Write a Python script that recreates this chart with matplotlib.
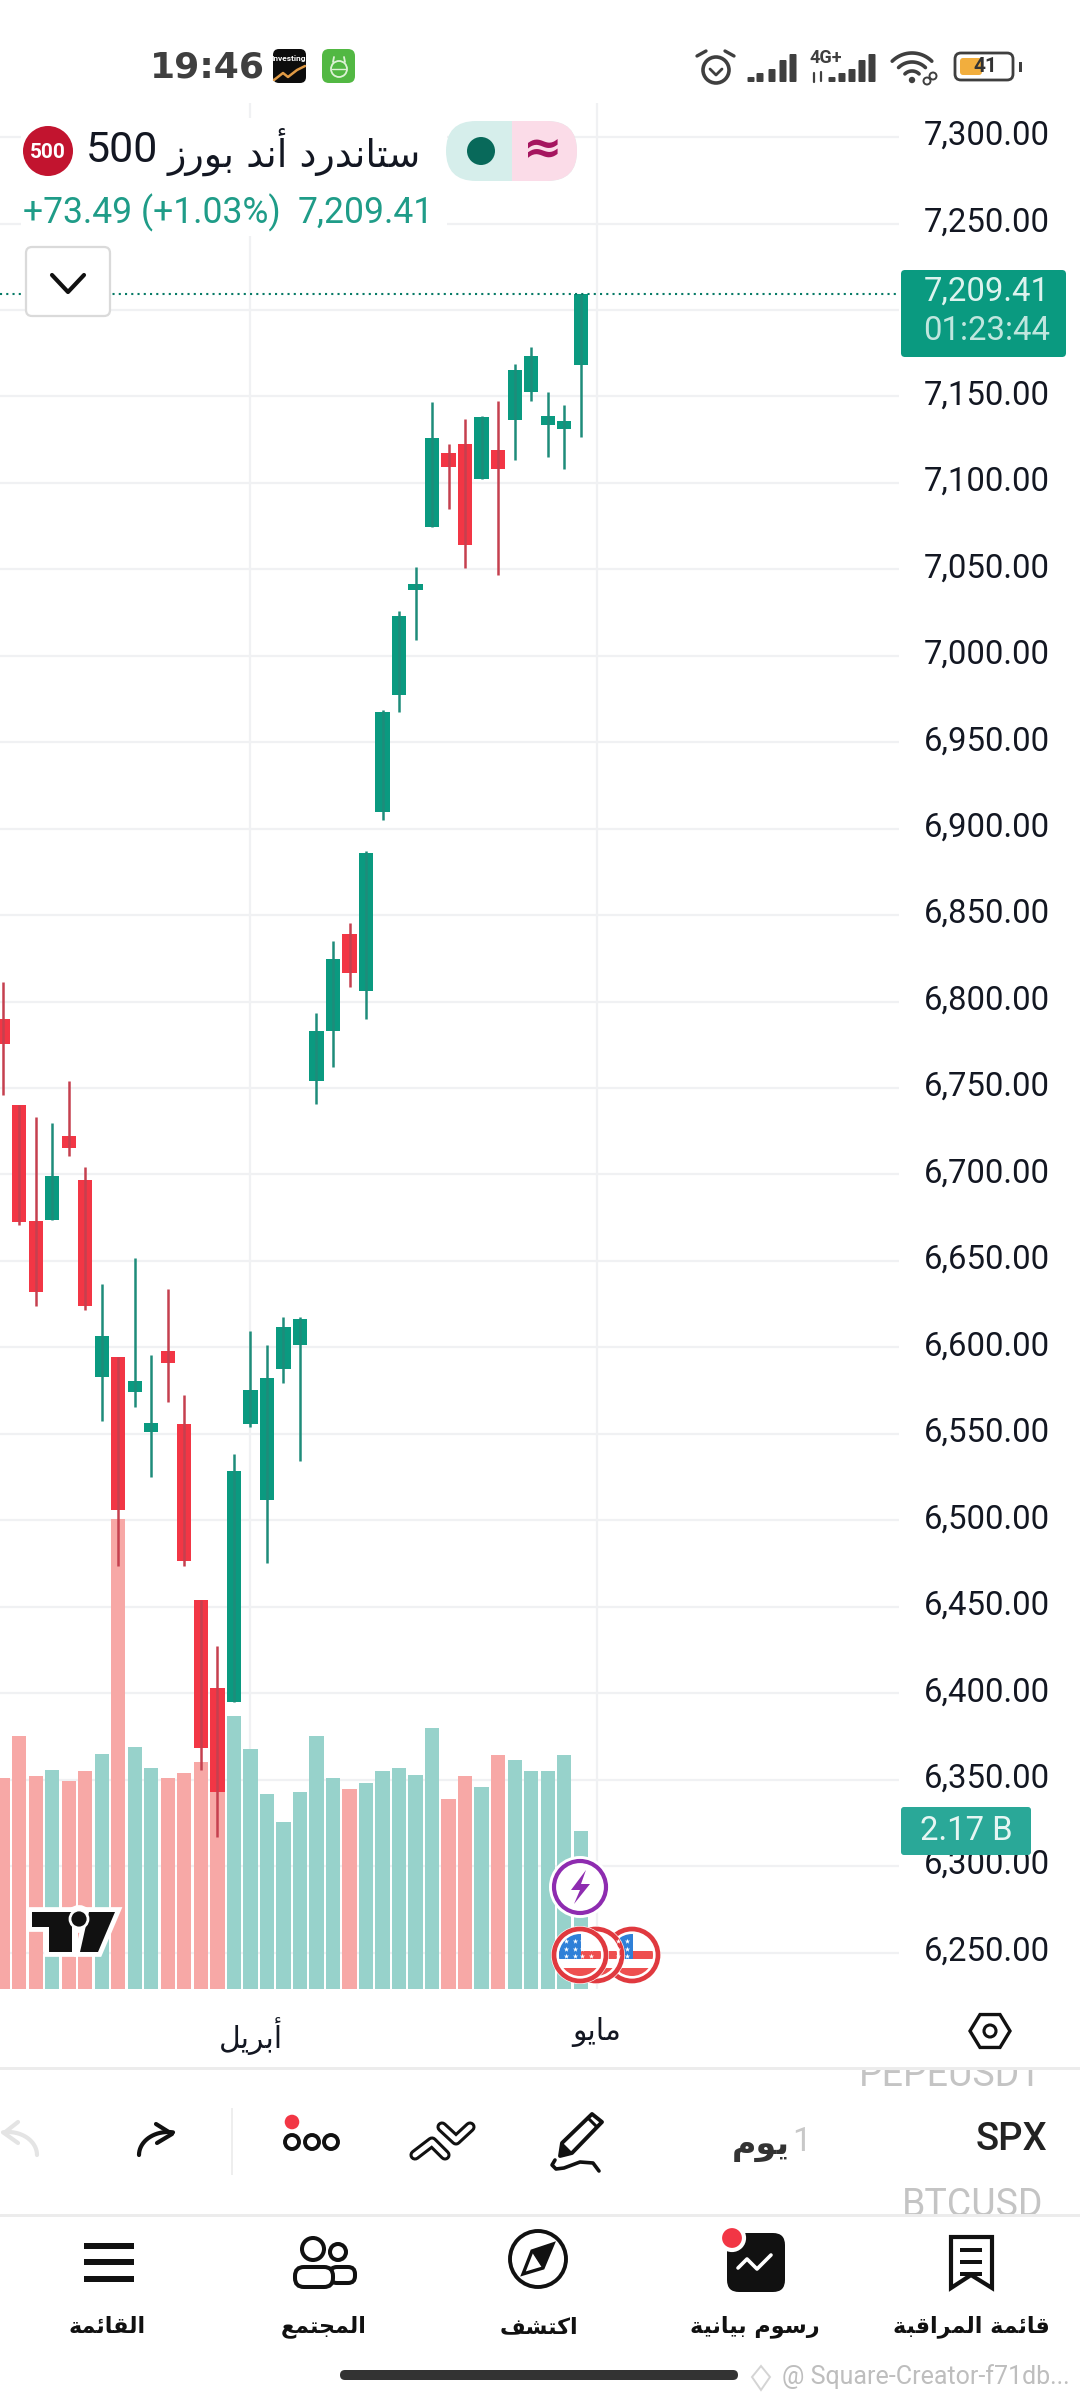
import numpy as np
import matplotlib
matplotlib.use('Agg')
import matplotlib.pyplot as plt
from matplotlib.patches import Circle, Polygon, Rectangle, FancyBboxPatch
from matplotlib.transforms import ScaledTranslation

# Candles, oldest first
opens = [6789.8, 6740.3, 6672.9, 6673.6, 6722.4, 6696.8, 6582.6, 6594.2, 6574.3, 6551.1, 6597.9, 6555.7,
         6453.8, 6403.0, 6394.7, 6555.7, 6511.9, 6587.3, 6601.5, 6753.9, 6783.1, 6839.2, 6805.9, 6909.9,
         6977.5, 7037.8, 7074.3, 7117.1, 7122.5, 7102.5, 7119.0, 7136.1, 7152.3, 7133.3, 7131.4, 7167.9]
closes = [6775.2, 6672.3, 6631.8, 6699.1, 6715.4, 6624.1, 6606.5, 6505.9, 6580.6, 6556.4, 6590.9, 6476.4,
          6368.5, 6342.9, 6528.5, 6575.3, 6582.3, 6611.8, 6616.5, 6782.8, 6824.6, 6816.3, 6885.8, 6967.4,
          7022.9, 7041.6, 7126.0, 7108.9, 7063.8, 7138.0, 7108.2, 7165.0, 7173.6, 7138.7, 7135.5, 7209.41]
highs = [6811.4, 6740.3, 6733.3, 6729.7, 6753.9, 6704.5, 6636.4, 6594.2, 6651.7, 6595.6, 6633.7, 6572.6,
         6453.8, 6427.2, 6538.4, 6609.2, 6601.5, 6617.8, 6617.8, 6793.4, 6834.9, 6845.2, 6886.8, 6968.9,
         7026.0, 7051.1, 7146.9, 7122.5, 7137.1, 7138.7, 7147.6, 7168.5, 7178.3, 7152.3, 7145.3, 7209.41]
lows = [6746.0, 6670.6, 6624.1, 6673.6, 6710.8, 6621.8, 6557.4, 6473.7, 6565.7, 6524.8, 6568.3, 6473.7,
        6355.8, 6317.0, 6394.7, 6554.0, 6475.0, 6579.6, 6534.5, 6740.6, 6761.9, 6808.7, 6790.0, 6905.2,
        6967.4, 7008.9, 7074.3, 7084.7, 7050.5, 7102.5, 7047.0, 7113.0, 7147.2, 7114.9, 7108.2, 7126.3]
volumes = [2.90, 3.48, 2.93, 3.01, 2.85, 2.99, 3.23, 6.46, 3.33, 3.03, 2.90, 2.97,
           3.12, 3.33, 3.75, 3.29, 2.68, 2.30, 2.70, 3.48, 2.90, 2.75, 2.83, 2.99,
           3.04, 2.94, 3.59, 2.61, 2.93, 2.78, 3.21, 3.15, 2.99, 3.00, 3.22, 2.17]
price_ticks = list(range(6250, 7301, 50))
hidden_tick = 7200  # sits under the last price tag
month_pos = [15, 36]
month_names = ['أبريل', 'مايو']
last_price = 7209.41
last_volume = '2.17 B'
nav_labels = ['القائمة', 'المجتمع', 'اكتشف', 'رسوم بيانية', 'قائمة المراقبة']
title_name = 'ستاندرد أند بورز'

GREEN = '#0A9A80'
RED = '#F23645'
GREEN_WICK = '#1E8C7A'
RED_WICK = '#C5404F'
VOL_GREEN = '#97D2CB'
VOL_RED = '#F7A8A6'
GRID = '#F0F1F3'
INK = '#131722'
STATUS = '#3F3F3F'

plt.rcParams['font.family'] = ['Roboto', 'DejaVu Sans']

# matplotlib does no Arabic shaping, so pick joined letter forms by hand
FOUR = {'ئ': 0xFE89, 'ب': 0xFE8F, 'ت': 0xFE95, 'ج': 0xFE9D, 'س': 0xFEB1, 'ش': 0xFEB5, 'ع': 0xFEC9,
        'ف': 0xFED1, 'ق': 0xFED5, 'ك': 0xFED9, 'ل': 0xFEDD, 'م': 0xFEE1, 'ن': 0xFEE5, 'ي': 0xFEF1}
TWO = {'أ': 0xFE83, 'ا': 0xFE8D, 'ة': 0xFE93, 'د': 0xFEA9, 'ر': 0xFEAD, 'ز': 0xFEAF, 'و': 0xFEED}


def shape(text):
    out = []
    for i, ch in enumerate(text):
        if ch not in FOUR and ch not in TWO:
            out.append(ch)
            continue
        before = i > 0 and text[i - 1] in FOUR
        after = i < len(text) - 1 and (text[i + 1] in FOUR or text[i + 1] in TWO)
        if ch in TWO:
            out.append(chr(TWO[ch] + (1 if before else 0)))
        else:
            out.append(chr(FOUR[ch] + (3 if before and after else 1 if before else 2 if after else 0)))
    return ''.join(out[::-1])


W, H = 1080, 2400
fig = plt.figure(figsize=(W / 100, H / 100), dpi=100, facecolor='white')

# Chart box in pixels, scale limits
left, right, top, bottom = 0, 899, 103, 1989
rect = [left / W, 1 - bottom / H, (right - left) / W, (bottom - top) / H]
xlim = (-0.18, 54.3)
ylim = (6228.9, 7319.7)

ax = fig.add_axes(rect, zorder=1)
ax.set_xlim(xlim)
ax.set_ylim(ylim)
ax.set_yticks(price_ticks)
ax.set_yticklabels(['' if p == hidden_tick else '{:,.2f}'.format(p) for p in price_ticks],
                   fontsize=23.7, color=INK, family='Roboto')
ax.yaxis.tick_right()
ax.set_xticks(month_pos)
ax.set_xticklabels([shape(m) for m in month_names], fontsize=21.5, color=INK, family='DejaVu Sans')
ax.tick_params(axis='y', length=0, pad=18)
ax.tick_params(axis='x', length=0, pad=20)
# labels sit a little above their gridlines
lift = ScaledTranslation(0, 0.045, fig.dpi_scale_trans)
for lab in ax.get_yticklabels():
    lab.set_transform(lab.get_transform() + lift)
ax.grid(True, color=GRID, linewidth=1.6)
ax.set_axisbelow(True)
for s in ax.spines.values():
    s.set_visible(False)

idx = np.arange(len(opens))
up = np.array(closes) >= np.array(opens)

vol_ax = fig.add_axes(rect, zorder=2)
vol_ax.patch.set_alpha(0)
vol_ax.axis('off')
vol_ax.set_xlim(xlim)
vol_ax.set_ylim(0, 25.9)
vol_ax.bar(idx, volumes, width=0.85, color=[VOL_GREEN if u else VOL_RED for u in up])

price_ax = fig.add_axes(rect, zorder=3)
price_ax.patch.set_alpha(0)
price_ax.axis('off')
price_ax.set_xlim(xlim)
price_ax.set_ylim(ylim)
price_ax.vlines(idx, lows, highs, colors=[GREEN_WICK if u else RED_WICK for u in up], linewidth=1.8)
price_ax.bar(idx, np.abs(np.array(closes) - np.array(opens)), bottom=np.minimum(opens, closes), width=0.85,
             color=[GREEN if u else RED for u in up])
price_ax.axhline(last_price, color='#067A66', linestyle=(0, (1, 2)), linewidth=1.5)

# Everything around the chart, drawn in screen pixels
ov = fig.add_axes([0, 0, 1, 1], zorder=5)
ov.patch.set_alpha(0)
ov.set_xlim(0, W)
ov.set_ylim(H, 0)
ov.axis('off')


def rbox(x0, y0, x1, y1, r, **kw):
    p = FancyBboxPatch((x0 + r, y0 + r), x1 - x0 - 2 * r, y1 - y0 - 2 * r, boxstyle='round,pad=%g' % r, **kw)
    ov.add_patch(p)
    return p


def line(xs, ys, color='#111111', lw=3, **kw):
    ov.plot(xs, ys, color=color, linewidth=lw, solid_capstyle='round', solid_joinstyle='round', **kw)


# Status bar
ov.text(150, 67, '19:46', fontsize=26, fontweight='bold', color=STATUS, family='DejaVu Sans', va='center')
rbox(273, 49, 306, 83, 6, facecolor='#0C0C0C', edgecolor='none')
line([274, 283, 288, 297, 305], [80, 73, 77, 70, 66], color='#E09A45', lw=1.8)
ov.text(289, 58, 'Investing', fontsize=6, fontweight='bold', color='white', ha='center', va='center', family='Roboto')
rbox(322, 49, 355, 83, 7, facecolor='#52B843', edgecolor='none')
ov.add_patch(Circle((339, 69), 8, facecolor='none', edgecolor='#DDF2D5', linewidth=1.3))
line([332, 346], [69, 69], color='#DDF2D5', lw=1)
line([333, 334], [62, 57], color='#DDF2D5', lw=1.3)
line([345, 344], [62, 57], color='#DDF2D5', lw=1.3)
# alarm clock
ov.add_patch(Circle((716, 70), 13, facecolor='none', edgecolor=STATUS, linewidth=2.6))
line([710, 716, 722], [69, 75, 69], color=STATUS, lw=2)
line([697, 706], [56, 51], color=STATUS, lw=2.4)
line([725, 734], [51, 56], color=STATUS, lw=2.4)
# signal bars
for bx, h in zip([751, 760, 772, 783, 793], [5, 9, 13, 22, 28]):
    rbox(bx - 3.5, 82 - h, bx + 3.5, 82, 1, facecolor=STATUS, edgecolor='none')
ov.text(826, 58, '4G+', fontsize=13, fontweight='bold', color=STATUS, ha='center', va='center', family='Roboto')
for bx, h in zip([832, 842, 852, 862, 872], [5, 9, 13, 22, 28]):
    rbox(bx - 3.5, 82 - h, bx + 3.5, 82, 1, facecolor=STATUS, edgecolor='none')
line([814, 814], [73, 82], color=STATUS, lw=1.6)
line([821, 821], [72, 81], color=STATUS, lw=1.6)
# wifi
for r in [10, 19, 28]:
    th = np.radians(np.linspace(-135, -45, 30))
    line(912 + r * np.cos(th), 81 + r * np.sin(th), color=STATUS, lw=2.6)
ov.add_patch(Circle((912, 80), 3.2, facecolor=STATUS, edgecolor='none'))
ov.add_patch(Circle((927, 81), 3.5, facecolor='white', edgecolor=STATUS, linewidth=1.4))
ov.add_patch(Circle((933, 76), 3.5, facecolor='white', edgecolor=STATUS, linewidth=1.4))
# battery
rbox(955, 53, 1013, 80, 6, facecolor='white', edgecolor=STATUS, linewidth=2)
rbox(960, 58, 982, 75, 3, facecolor='#F2AE3D', edgecolor='none')
ov.add_patch(Rectangle((1019, 62), 3, 10, facecolor=STATUS, edgecolor='none'))
ov.text(985, 67, '41', fontsize=15, fontweight='bold', color='#333333', ha='center', va='center', family='Roboto')

# Legend block hides the grid behind it
ov.add_patch(Rectangle((21, 118), 426, 118, facecolor='white', edgecolor='none'))
ov.add_patch(Circle((48, 151), 25, facecolor='#C2142F', edgecolor='none'))
ov.text(48, 152, '500', fontsize=15, fontweight='bold', color='white', ha='center', va='center', family='Roboto')
ov.text(86, 150, '500', fontsize=31, color=INK, va='center', family='Roboto')
ov.text(421, 152, shape(title_name), fontsize=27.4, color=INK, ha='right', va='center', family='DejaVu Sans')
rbox(446, 121, 577, 181, 30, facecolor='#D6EEEB', edgecolor='none')
rbox(512, 121, 577, 181, 30, facecolor='#FBDCE8', edgecolor='none')
ov.add_patch(Rectangle((512, 121), 32, 60, facecolor='#FBDCE8', edgecolor='none'))
ov.add_patch(Circle((481, 151), 14, facecolor='#08695A', edgecolor='none'))
ov.text(543, 150, '≈', fontsize=34, fontweight='bold', color='#A5155F', ha='center', va='center', family='DejaVu Sans')
ov.text(23, 213, '+73.49 (+1.03%)', fontsize=25.6, color='#1F9C88', va='center', family='Roboto')
ov.text(298, 213, '{:,.2f}'.format(last_price), fontsize=25.6, color='#1F9C88', va='center', family='Roboto')
rbox(26, 247, 110, 316, 6, facecolor='white', edgecolor='#DADADA', linewidth=1.6)
line([52, 68, 84], [275, 292, 275], color='#111111', lw=3)

# Price tags
rbox(901, 270, 1066, 357, 4, facecolor=GREEN, edgecolor='none')
ov.text(1050, 292, '{:,.2f}'.format(last_price), fontsize=23.7, color='#DDF3EE', ha='right', va='center', family='Roboto')
ov.text(1050, 331, '01:23:44', fontsize=23.7, color='#BFE6DE', ha='right', va='center', family='Roboto')
rbox(901, 1807, 1031, 1855, 3, facecolor='#2AA898', edgecolor='none')
ov.text(966, 1831, last_volume, fontsize=23.7, color='#E6F6F3', ha='center', va='center', family='Roboto')

# TradingView mark
t_shape = [(32, 1912), (72, 1912), (72, 1952), (49, 1952), (49, 1927), (32, 1927)]
slash = [(89, 1912), (115, 1912), (98, 1952), (80, 1952)]
for pts in [t_shape, slash]:
    ov.add_patch(Polygon(pts, facecolor='white', edgecolor='white', linewidth=7))
ov.add_patch(Circle((79, 1919), 9, facecolor='white', edgecolor='white', linewidth=7))
for pts in [t_shape, slash]:
    ov.add_patch(Polygon(pts, facecolor='#111111', edgecolor='none'))
ov.add_patch(Circle((79, 1919), 9, facecolor='#111111', edgecolor='white', linewidth=2))

# Event badges
ov.add_patch(Circle((580, 1887), 31, facecolor='white', edgecolor='none'))
ov.add_patch(Circle((580, 1887), 26, facecolor='white', edgecolor='#8E2CB0', linewidth=3))
ov.add_patch(Polygon([(586, 1870), (571, 1890), (580, 1890), (574, 1904), (590, 1884), (581, 1884)],
                     facecolor='#8E2CB0', edgecolor='none'))


def flag(cx, cy):
    ov.add_patch(Circle((cx, cy), 29, facecolor='white', edgecolor='none'))
    ov.add_patch(Circle((cx, cy), 26, facecolor='white', edgecolor='#E0393F', linewidth=3.4))
    clip = Circle((cx, cy), 21, transform=ov.transData)
    for dy, h in [(-4, 8), (13, 10)]:
        bar = Rectangle((cx - 23, cy + dy), 46, h, facecolor='#EE4F4F', edgecolor='none')
        ov.add_patch(bar)
        bar.set_clip_path(clip)
    blue = Rectangle((cx - 23, cy - 22), 24, 26, facecolor='#2F80D8', edgecolor='none')
    ov.add_patch(blue)
    blue.set_clip_path(clip)
    ov.scatter([cx - 14, cx - 5, cx - 14, cx - 5, cx - 14, cx - 5],
               [cy - 14, cy - 14, cy - 6, cy - 6, cy + 1, cy + 1], s=16, color='white', marker='*', zorder=4, linewidths=0)


flag(632, 1955)
flag(596, 1955)
flag(580, 1955)

# Settings hexagon
th = np.radians(np.array([0, 60, 120, 180, 240, 300]))
ov.add_patch(Polygon(np.c_[990 + 20 * np.cos(th), 2031 + 19 * np.sin(th)], facecolor='none', edgecolor='#111111', linewidth=2.4))
ov.add_patch(Circle((990, 2031), 6, facecolor='none', edgecolor='#111111', linewidth=2.2))

# Toolbar, the neighbouring symbols are cut off by the picker's edges
clip_top = Rectangle((860, 2070), 220, 144, transform=ov.transData)
t = ov.text(1043, 2075, 'PEPEUSDT', fontsize=27, color='#C4C4C4', ha='right', va='center', family='Roboto')
t.set_clip_on(True)
t.set_clip_path(clip_top)
t = ov.text(1043, 2206, 'BTCUSD', fontsize=27, color='#C4C4C4', ha='right', va='center', family='Roboto')
t.set_clip_on(True)
t.set_clip_path(clip_top)

# Separators
ov.add_patch(Rectangle((0, 2067), W, 3, facecolor='#ECECEC', edgecolor='none'))
ov.add_patch(Rectangle((0, 2214), W, 3, facecolor='#ECECEC', edgecolor='none'))

ov.text(1047, 2140, 'SPX', fontsize=27.5, fontweight='medium', color='#222222', ha='right', va='center', family='Roboto')
ov.text(790, 2146, shape('يوم'), fontsize=24, fontweight='bold', color='#333333', ha='right', va='center', family='DejaVu Sans')
ov.text(792, 2142, '1', fontsize=24, color='#C8C8C8', va='center', family='Roboto')
# pencil
ov.add_patch(Polygon([(562, 2143), (592, 2114), (602, 2122), (572, 2153), (560, 2156)], facecolor='white',
                     edgecolor='#111111', linewidth=2.8, joinstyle='round'))
ov.add_patch(Polygon([(560, 2156), (562, 2143), (572, 2153)], facecolor='#111111', edgecolor='#111111', linewidth=1))
line([588, 597], [2118, 2127], lw=2.2)
line([555, 552, 556, 564, 580, 593, 599], [2160, 2165, 2169, 2168, 2162, 2163, 2171], lw=2.6)
# trend tool, two outlined chevrons
for xs, ys in [([415, 432, 445], [2155, 2142, 2155]), ([442, 456, 470], [2127, 2140, 2127])]:
    line(xs, ys, lw=8)
    line(xs, ys, color='white', lw=3.6)
# indicators
for cx in [292, 312, 331]:
    ov.add_patch(Circle((cx, 2142), 7, facecolor='white', edgecolor='#111111', linewidth=2.8))
ov.add_patch(Circle((292, 2122), 8, facecolor=RED, edgecolor='white', linewidth=1))
ov.add_patch(Rectangle((231, 2108), 2, 67, facecolor='#EEEEEE', edgecolor='none'))
# redo and undo
th = np.radians(np.linspace(180, 280, 20))
line(168 + 29 * np.cos(th), 2155 + 23 * np.sin(th), lw=3)
line([156, 172, 157], [2124, 2134, 2143], lw=3)
th = np.radians(np.linspace(0, -100, 20))
line(8 + 29 * np.cos(th), 2155 + 23 * np.sin(th), color='#E4E4E4', lw=3)
line([18, 4, 18], [2122, 2133, 2143], color='#E4E4E4', lw=3)

# Bottom navigation
for lbl, cx in zip(nav_labels, [107, 324, 539, 755, 971]):
    parts = lbl.split(' ')
    ov.text(cx, 2327, ' '.join(shape(p) for p in parts[::-1]), fontsize=16, fontweight='bold', color='#111111',
            ha='center', va='center', family='DejaVu Sans')
for yy in [2246, 2262, 2279]:
    ov.add_patch(Rectangle((84, yy - 3), 50, 6, facecolor='#111111', edgecolor='none'))
# people
ov.add_patch(Circle((313, 2249), 11, facecolor='white', edgecolor='#111111', linewidth=2.9))
ov.add_patch(Circle((338, 2252), 8, facecolor='white', edgecolor='#111111', linewidth=2.9))
rbox(330, 2267, 355, 2283, 7, facecolor='white', edgecolor='#111111', linewidth=2.9)
rbox(295, 2267, 333, 2287, 9, facecolor='white', edgecolor='#111111', linewidth=2.9)
# compass
ov.add_patch(Circle((538, 2259), 28, facecolor='white', edgecolor='#111111', linewidth=2.8))
ov.add_patch(Polygon([(553, 2244), (543, 2268), (523, 2274), (532, 2251)], facecolor='white', edgecolor='#111111', linewidth=2.4))
ov.add_patch(Polygon([(553, 2244), (543, 2268), (532, 2251)], facecolor='#111111', edgecolor='#111111', linewidth=1))
# charts tab
rbox(727, 2233, 785, 2292, 12, facecolor='#111111', edgecolor='none')
line([738, 747, 757, 771], [2268, 2259, 2269, 2255], color='white', lw=2.6)
ov.add_patch(Circle((732, 2238), 12, facecolor=RED, edgecolor='white', linewidth=3))
# watchlist
ov.add_patch(Polygon([(951, 2237), (992, 2237), (992, 2288), (971, 2275), (951, 2288)], facecolor='white', edgecolor='#111111', linewidth=3))
for yy in [2250, 2262, 2274]:
    ov.add_patch(Rectangle((960, yy - 2), 22, 4, facecolor='#111111', edgecolor='none'))

# Home bar and watermark
rbox(340, 2370, 738, 2380, 5, facecolor='#333333', edgecolor='none')
ov.text(782, 2377, '@ Square-Creator-f71db...', fontsize=18, color='#BEBEBE', va='center', family='Roboto')
ov.add_patch(Polygon([(752, 2377), (761, 2366), (770, 2377), (761, 2390)], facecolor='none', edgecolor='#D4D4D4', linewidth=1.4))

fig.savefig('out.png', dpi=100)
plt.close(fig)
